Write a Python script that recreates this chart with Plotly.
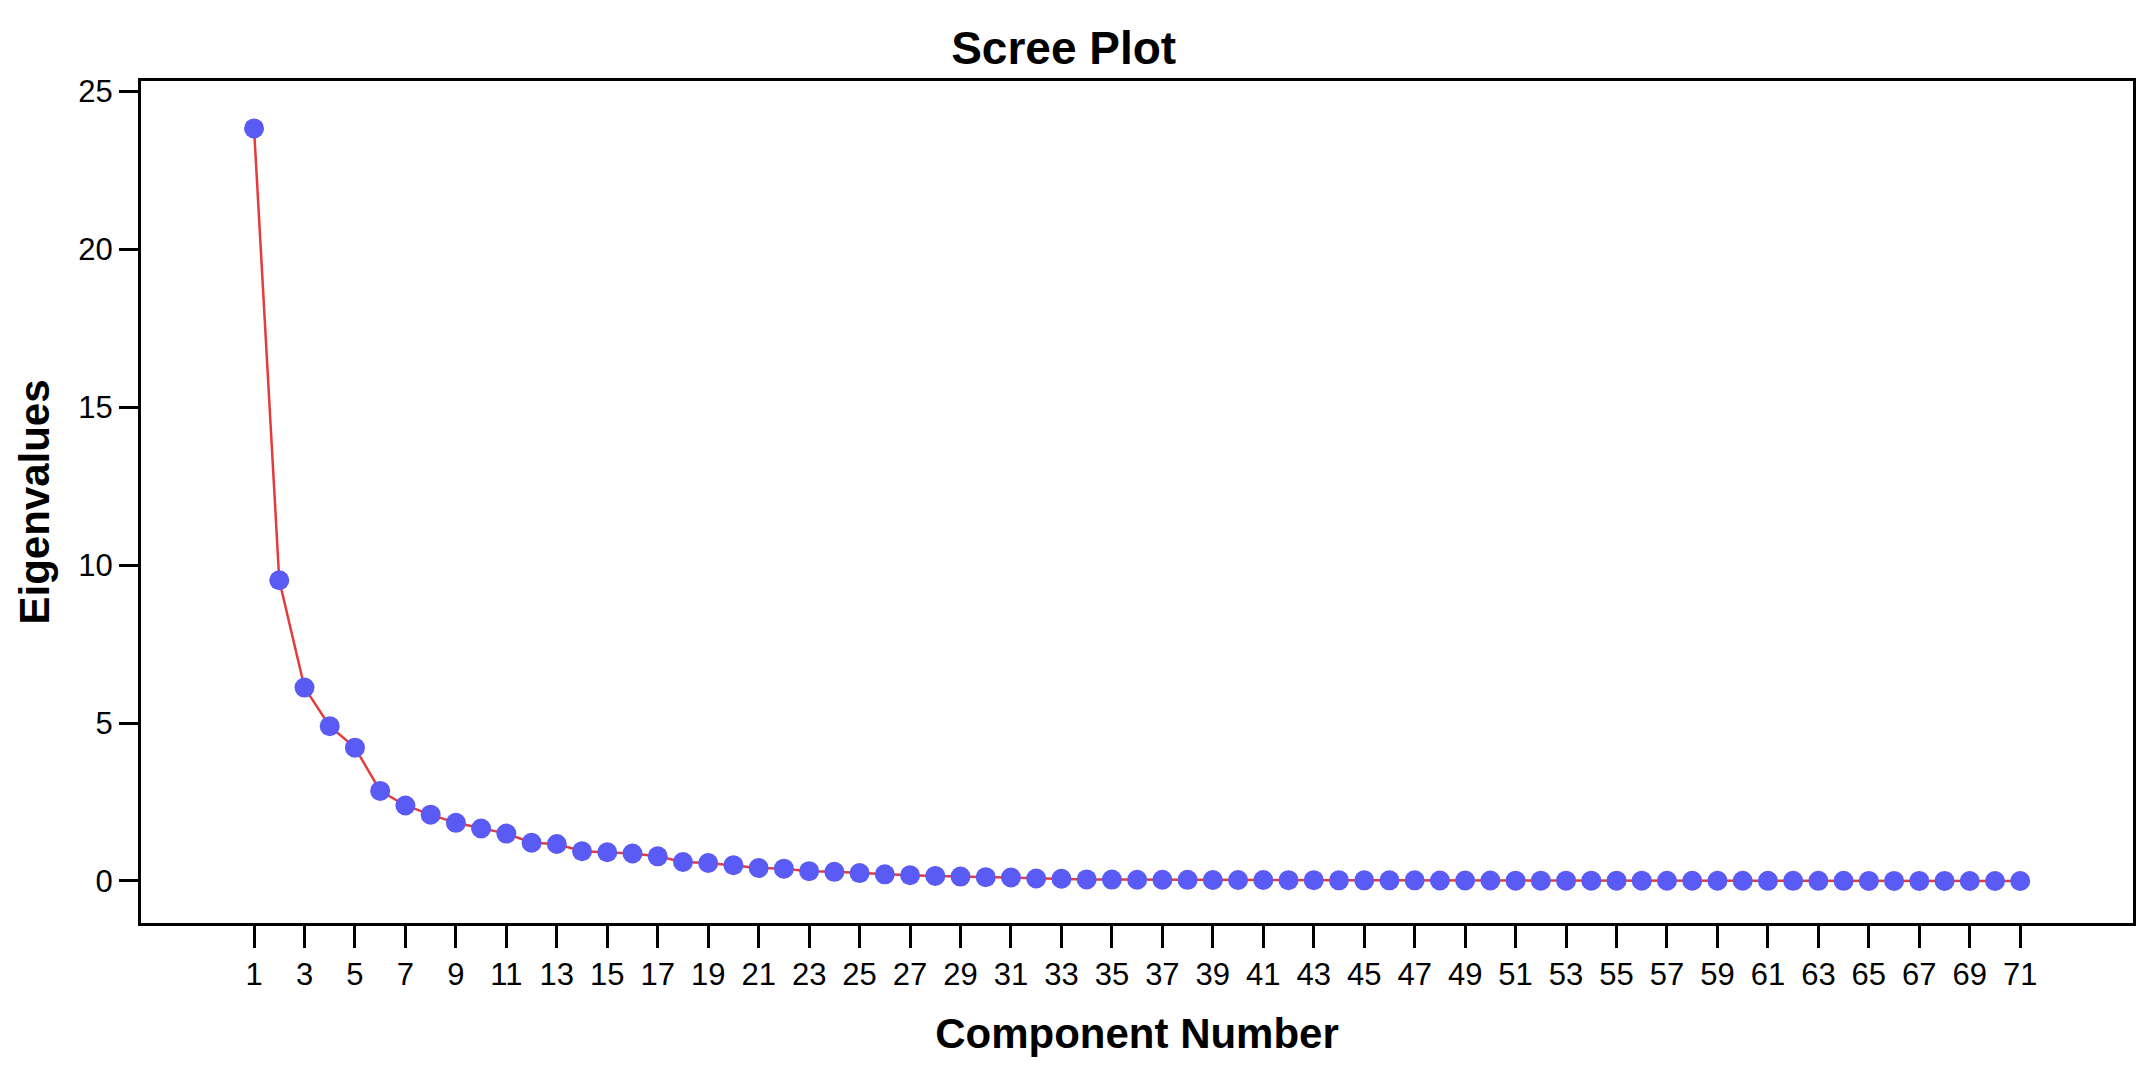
import plotly.graph_objects as go

# scree plot: eigenvalue of each component
components = list(range(1, 72))
eigenvalues = [
    23.82, 9.52, 6.12, 4.90, 4.22, 2.85, 2.39, 2.10, 1.84, 1.66,
    1.50, 1.21, 1.17, 0.94, 0.91, 0.87, 0.78, 0.60, 0.57, 0.50,
    0.41, 0.39, 0.31, 0.29, 0.25, 0.21, 0.18, 0.16, 0.14, 0.12,
    0.11, 0.08, 0.07, 0.05, 0.045, 0.04, 0.04, 0.035, 0.03, 0.03,
    0.03, 0.025, 0.025, 0.02, 0.02, 0.02, 0.02, 0.015, 0.015, 0.015,
    0.01, 0.01, 0.01, 0.01, 0.01, 0.01, 0.008, 0.008, 0.006, 0.006,
    0.005, 0.005, 0.004, 0.004, 0.003, 0.003, 0.002, 0.002, 0.001, 0.001,
    0.001,
]
x_ticks = list(range(1, 72, 2))
y_ticks = [0, 5, 10, 15, 20, 25]

FONT = "Liberation Sans, Arial, sans-serif"

fig = go.Figure()
fig.add_trace(
    go.Scatter(
        x=components,
        y=eigenvalues,
        mode="lines+markers",
        line=dict(color="rgb(228,60,60)", width=2.5),
        marker=dict(color="rgb(90,90,245)", size=20, line=dict(width=0)),
        showlegend=False,
    )
)

fig.update_layout(
    width=2150,
    height=1067,
    margin=dict(l=133, r=25, t=73, b=152),
    paper_bgcolor="white",
    plot_bgcolor="white",
    font=dict(family=FONT, color="black", size=31),
    title=dict(
        text="<b>Scree Plot</b>",
        font=dict(size=46, family=FONT, color="black"),
        x=0.491,
        xref="container",
        xanchor="center",
        y=0.9625,
        yref="container",
        yanchor="middle",
    ),
)

fig.update_xaxes(
    range=[-3.48, 75.47],
    tickmode="array",
    tickvals=x_ticks,
    ticktext=[str(t) for t in x_ticks],
    ticks="outside",
    ticklen=22,
    tickwidth=3,
    tickcolor="black",
    tickfont=dict(size=31),
    showgrid=False,
    zeroline=False,
    showline=True,
    linecolor="black",
    linewidth=3,
    mirror=True,
    title=dict(text="<b>Component Number</b>", font=dict(size=42), standoff=28),
    automargin=False,
)
fig.update_yaxes(
    range=[-1.33, 25.32],
    tickmode="array",
    tickvals=y_ticks,
    ticks="outside",
    ticklen=19,
    tickwidth=3,
    tickcolor="black",
    tickfont=dict(size=31),
    showgrid=False,
    zeroline=False,
    showline=True,
    linecolor="black",
    linewidth=3,
    mirror=True,
    title=dict(text="<b>Eigenvalues</b>", font=dict(size=42), standoff=16),
    automargin=False,
)

fig.write_html("out.html")
